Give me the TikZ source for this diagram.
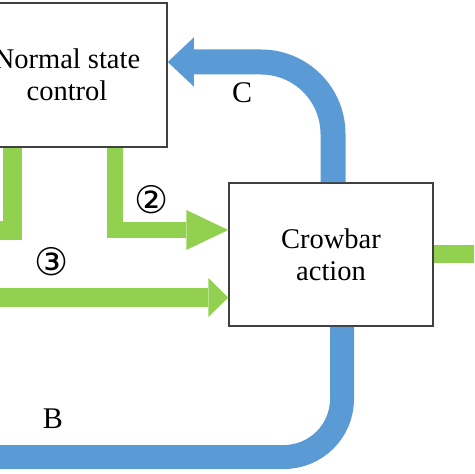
\documentclass[tikz,border=0pt]{standalone}
\usepackage{fontspec}
\setmainfont{Liberation Serif}
\newfontfamily\circfont{DejaVu Sans}
\usetikzlibrary{arrows.meta}
\definecolor{flowblue}{RGB}{91,155,213}
\definecolor{flowgreen}{RGB}{146,208,80}
\definecolor{boxgray}{RGB}{64,64,64}

\begin{document}
\begin{tikzpicture}[x=0.5pt, y=-0.5pt,
    block/.style={draw=boxgray, line width=0.75pt, fill=white, align=center,
        inner sep=0pt, font=\fontsize{14.25}{16}\selectfont},
    bluepath/.style={draw=flowblue, line width=12.5pt},
    greenpath/.style={draw=flowgreen, line width=9.5pt},
    lbl/.style={font=\fontsize{15}{18}\selectfont},
    circlbl/.style={font=\circfont\fontsize{19}{22}\selectfont}]
    \useasboundingbox (0,0) rectangle (474,474);
    \clip (0,0) rectangle (474,474);

    % Blocks
    \node[block, minimum width=100pt, minimum height=72pt] (normal) at (67,75)
        {Normal state\\control};
    \node[block, minimum width=102pt, minimum height=71.5pt] (crowbar) at (331,254.5)
        {Crowbar\\action};

    % Turning points
    \coordinate (cTop) at (333,62);
    \coordinate (bLow) at (342,457);
    \coordinate (bEnd) at (-20,457);
    \coordinate (oneDown) at (12.5,231);
    \coordinate (oneEnd) at (-20,231);
    \coordinate (twoDown) at (115,230);
    \coordinate (threeStart) at (-20,297.5);
    \coordinate (outEnd) at (490,254.5);

    % Blue paths
    \draw[bluepath, rounded corners=36pt,
        -{Triangle[length=13pt, width=24.5pt, line width=0pt]}]
        (crowbar.north -| cTop) |- (normal.east |- cTop);
    \node[lbl] (labelC) at (242,93) {C};
    \draw[bluepath, line width=12pt, rounded corners=29pt]
        (crowbar.south -| bLow) |- (bEnd);
    \node[lbl] (labelB) at (53,419) {B};

    % Green paths
    \draw[greenpath] (normal.south -| oneDown) |- (oneEnd);
    \draw[greenpath, line width=8pt,
        -{Triangle[length=21pt, width=20pt, line width=0pt]}]
        (normal.south -| twoDown) |- (crowbar.west |- twoDown);
    \node[circlbl] (labelTwo) at (152,200) {②};
    \draw[greenpath, -{Triangle[length=10pt, width=19.5pt, line width=0pt]}]
        (threeStart) -- (crowbar.west |- threeStart);
    \node[circlbl] (labelThree) at (52,262) {③};
    \draw[greenpath, line width=9pt] (crowbar.east) -- (outEnd);
\end{tikzpicture}
\end{document}
